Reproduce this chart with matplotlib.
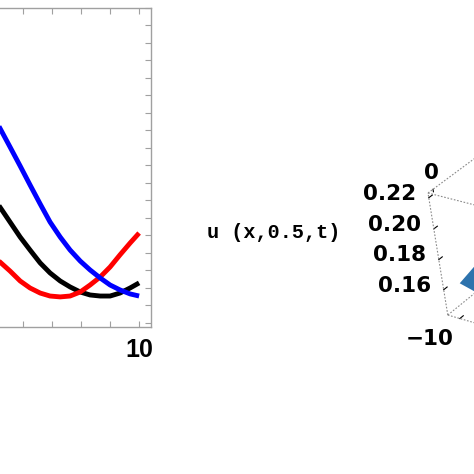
import numpy as np
import matplotlib
matplotlib.use("Agg")
import matplotlib.pyplot as plt
from matplotlib.ticker import MultipleLocator
from mpl_toolkits.mplot3d import proj3d

plt.rcParams["font.family"] = ["DejaVu Sans"]
plt.rcParams["font.weight"] = "bold"

# ---------------- left panel data (x, three curves) ----------------
x_vals = [4.85, 5.2, 5.55, 5.9, 6.24, 6.59, 6.93, 7.28, 7.62, 7.97, 8.31,
          8.66, 9.0, 9.34, 9.69, 10.0]
black_vals = [7.49, 6.63, 5.77, 4.91, 4.17, 3.43, 2.86, 2.4, 2.06, 1.77, 1.6,
              1.54, 1.54, 1.71, 2.0, 2.29]
red_vals = [4.0, 3.49, 2.97, 2.4, 2.0, 1.71, 1.54, 1.49, 1.54, 1.77, 2.17,
            2.63, 3.2, 3.89, 4.57, 5.14]
blue_vals = [12.22, 11.14, 10.06, 8.97, 7.89, 6.8, 5.77, 4.91, 4.17, 3.54,
             3.03, 2.57, 2.17, 1.89, 1.66, 1.54]
x_ticks = [10]
x_tick_labels = ["10"]

# ---------------- right panel (3D surface u(x,0.5,t)) ----------------
surf_x = [-10, -7.5, -5, -2.5, 0, 2.5, 5, 7.5, 10]
surf_t = [0.0, 0.25, 0.5, 0.75, 1.0]
surf_u = [
    [0.164, 0.158, 0.153, 0.150, 0.151, 0.156, 0.165, 0.177, 0.190],
    [0.172, 0.165, 0.158, 0.154, 0.153, 0.157, 0.164, 0.174, 0.187],
    [0.181, 0.173, 0.165, 0.159, 0.156, 0.158, 0.163, 0.172, 0.184],
    [0.191, 0.182, 0.173, 0.165, 0.160, 0.160, 0.163, 0.170, 0.181],
    [0.202, 0.192, 0.182, 0.172, 0.165, 0.162, 0.163, 0.168, 0.178],
]
z_ticks = [0.16, 0.18, 0.20, 0.22]
z_tick_labels = ["0.16", "0.18", "0.20", "0.22"]
sx_ticks = [-10, -5, 0, 5, 10]
sx_tick_labels = ["\u221210", "\u22125", "0", "5", "10"]
st_ticks = [0.0, 0.5, 1.0]
st_tick_labels = ["0", "0.5", "1"]
z_label = "u (x,0.5,t)"

W = H = 474
fig = plt.figure(figsize=(W / 100, H / 100), dpi=100)

# ---- left 2D panel (cropped on the left) ----
ax = fig.add_axes([-151 / W, 1 - 327 / H, 302 / W, 319 / H])
for yv, col in ((black_vals, "black"), (red_vals, "#ff0000"), (blue_vals, "#0000ff")):
    ax.plot(x_vals, yv, color=col, lw=3.5, solid_joinstyle="round",
            solid_capstyle="butt")
ax.set_xlim(0, 10.41)
ax.set_ylim(-0.23, 18.0)
ax.set_xticks(x_ticks, x_tick_labels, fontfamily="Liberation Sans",
              fontweight="bold", fontsize=18)
ax.xaxis.set_minor_locator(MultipleLocator(1))
ax.yaxis.set_major_locator(MultipleLocator(1))
ax.set_yticklabels([])
for sp in ax.spines.values():
    sp.set_color("#a0a0a0")
    sp.set_linewidth(1.0)
ax.tick_params(which="both", direction="in", top=True, right=True,
               color="#a0a0a0", length=4, width=0.8)
ax.tick_params(axis="x", pad=8)

# ---- z-axis label text ----
fig.text(207 / W, 1 - 233 / H, z_label, fontfamily="Liberation Mono",
         fontweight="bold", fontsize=14.5, va="center", ha="left")

# ---- right 3D panel (cropped on the right) ----
ax3 = fig.add_axes([0.5, -0.6, 2.2, 2.2], projection="3d")
ax3.set_proj_type("persp", focal_length=0.4)
ax3.view_init(elev=30, azim=-54, roll=6)
X, T = np.meshgrid(surf_x, surf_t)
U = np.array(surf_u)
ax3.plot_surface(X, T, U, color="#3a95e0", shade=True, linewidth=0,
                 antialiased=True)
xl, yl, zl = (-11.0, 10.5), (-0.03, 1.03), (0.143, 0.223)
ax3.set_zticks(z_ticks, z_tick_labels, fontsize=15.5, fontweight="bold",
               ha="right", va="baseline")
ax3.set_xticks(sx_ticks, sx_tick_labels, fontsize=15.5, fontweight="bold",
               ha="right")
ax3.set_yticks(st_ticks, st_tick_labels, fontsize=15.5, fontweight="bold",
               ha="left", va="bottom")
ax3.zaxis.set_ticks_position("both")
ax3.yaxis.set_ticks_position("both")
ax3.tick_params(axis="z", pad=3)
ax3.tick_params(axis="x", pad=8)
ax3.tick_params(axis="y", pad=4)
ax3.grid(False)
ax3.patch.set_facecolor("none")
for a in (ax3.xaxis, ax3.yaxis, ax3.zaxis):
    a.pane.set_facecolor((1, 1, 1, 0))
    a.pane.set_edgecolor((1, 1, 1, 0))
    a.line.set_color((0, 0, 0, 0))
    a._axinfo["tick"]["color"] = "#909090"
    a._axinfo["tick"]["inward_factor"] = 0.0
    a._axinfo["tick"]["outward_factor"] = 0.25
box_style = dict(color="#8a8a8a", lw=0.8, ls=(0, (1.5, 1.5)))
for yy in yl:
    for zz in zl:
        ax3.plot(xl, [yy, yy], [zz, zz], **box_style)
for xx in xl:
    for zz in zl:
        ax3.plot([xx, xx], yl, [zz, zz], **box_style)
for xx in xl:
    for yy in yl:
        ax3.plot([xx, xx], [yy, yy], zl, **box_style)
ax3.set_xlim(*xl)
ax3.set_ylim(*yl)
ax3.set_zlim(*zl)
ax3.set_box_aspect((7, 6, 3))

# fit the box corner to its place in the picture
target_top = np.array([428.0, H - 193.0])
target_bot = np.array([448.0, H - 315.0])


def corners():
    fig.canvas.draw()
    M = ax3.get_proj()
    out = []
    for z in (zl[1], zl[0]):
        xs, ys, _ = proj3d.proj_transform(xl[0], yl[0], z, M)
        out.append(ax3.transData.transform((xs, ys)))
    return np.array(out[0]), np.array(out[1])


zoom = 1.0
for _ in range(4):
    top, bot = corners()
    L = np.linalg.norm(top - bot)
    zoom *= np.linalg.norm(target_top - target_bot) / L
    ax3.set_box_aspect((7, 6, 3), zoom=zoom)
    top, bot = corners()
    d = target_top - top
    pos = ax3.get_position()
    ax3.set_position([pos.x0 + d[0] / W, pos.y0 + d[1] / H, pos.width, pos.height])

fig.savefig("out.png", dpi=100)
